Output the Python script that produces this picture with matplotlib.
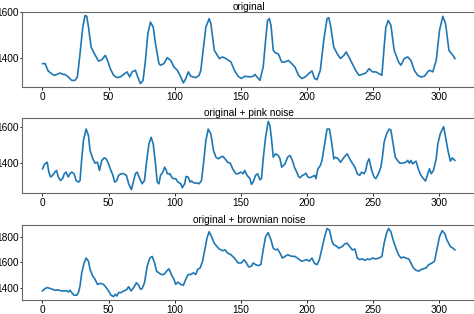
import numpy as np
import matplotlib
matplotlib.use("Agg")
import matplotlib.pyplot as plt
from matplotlib.ticker import MultipleLocator

plt.rcParams['font.family'] = ['Liberation Sans', 'DejaVu Sans']

# original signal
x_orig = [0, 2, 4.3, 7.6, 9.4, 13.2, 15.7, 17, 19.5, 22.1, 24.6, 26.4, 28.4, 30.5, 32.2, 33.5,
          34.8, 36.8, 39.3, 42.4, 44.9, 47.5, 49.2, 51.3, 53.8, 56.3, 58.9, 61.4, 64, 66, 67.8,
          70.3, 72.1, 74.1, 76.1, 77.9, 79.7, 81.7, 83.8, 85.5, 88.1, 89.3, 91.9, 94.4, 97, 99.5,
          102, 104.6, 106.6, 108.4, 110.4, 112.2, 116, 118.5, 119.8, 121.8, 123.6, 126.1, 127.4,
          130, 133.8, 136.3, 138.8, 142.6, 145.2, 148, 150.5, 153, 157, 159.4, 160.7, 163.3,
          164.5, 167, 168.8, 170.3, 171.6, 172.9, 174.6, 176.4, 178.4, 181, 183.5, 186, 188.6,
          191, 193.7, 196.2, 198.8, 201.3, 203.9, 205.9, 207.7, 210.2, 212.8, 215.3, 216.6, 217.9,
          220.4, 223, 225.5, 228, 229.8, 231.8, 234.4, 236.9, 239.5, 242, 244.6, 247.1, 249.6,
          252.2, 254.7, 256.8, 258.5, 259.8, 261.6, 263.6, 266.1, 269.4, 271.2, 273.7, 276.3,
          278.8, 281.3, 283.9, 286.4, 289, 291.5, 292.8, 295.3, 297.9, 300.4, 302.9, 305, 307.5,
          310.6, 312]
y_orig = [1377, 1377, 1345, 1330, 1326, 1336, 1330, 1330, 1319, 1304, 1304, 1319, 1420, 1536, 1587,
          1583, 1536, 1449, 1420, 1388, 1394, 1413, 1391, 1355, 1326, 1316, 1319, 1330, 1341, 1319,
          1341, 1348, 1319, 1290, 1304, 1391, 1507, 1558, 1536, 1464, 1377, 1370, 1377, 1403, 1391,
          1362, 1348, 1319, 1293, 1312, 1341, 1322, 1316, 1326, 1348, 1449, 1536, 1573, 1551, 1435,
          1399, 1406, 1399, 1384, 1348, 1322, 1312, 1322, 1319, 1322, 1330, 1312, 1304, 1362, 1478,
          1565, 1573, 1544, 1435, 1423, 1420, 1384, 1384, 1391, 1377, 1362, 1326, 1312, 1319, 1333,
          1345, 1312, 1307, 1348, 1478, 1573, 1577, 1544, 1449, 1420, 1399, 1413, 1428, 1406, 1377,
          1348, 1326, 1330, 1336, 1355, 1341, 1341, 1333, 1326, 1449, 1536, 1565, 1544, 1435, 1384,
          1370, 1399, 1406, 1391, 1348, 1326, 1319, 1322, 1341, 1348, 1341, 1391, 1522, 1583, 1551,
          1435, 1413, 1399]

# original + pink noise
x_pink = [0, 1.3, 2.5, 3.6, 4.8, 6.1, 7.6, 9.4, 10.7, 11.9, 13.7, 15.2, 16.5, 17.8, 19.5, 20.8,
          22.1, 23.9, 25.4, 27.2, 28.4, 29.7, 31, 33, 34.8, 36, 38.1, 39.8, 41.6, 43.1, 44.9, 46.7,
          48.2, 50, 51.3, 53.3, 54.6, 56.3, 57.6, 59.4, 61.4, 63.5, 65.2, 67.3, 69, 70.3, 71.6,
          73.6, 75.4, 77.2, 78.7, 80.5, 82.2, 83.8, 85.5, 86.8, 88.1, 89.3, 91.1, 92.4, 93.7, 94.4,
          96.4, 97.7, 99, 100.8, 102.5, 104.6, 105.8, 107.6, 108.6, 110.2, 111.7, 112.7, 114.7,
          116.8, 118.5, 120.3, 121.8, 123.6, 125.4, 127.4, 129.4, 131.2, 133, 135, 136.3, 138.1,
          140.1, 142.1, 143.9, 146.4, 148, 150, 151.8, 153, 154.8, 157, 158.1, 159.4, 161.2, 162.7,
          164.5, 165.7, 167, 168.8, 170.8, 172.1, 173.4, 174.6, 176.4, 178.4, 179.7, 181, 183.5,
          185.5, 187.3, 189.1, 190.6, 192.4, 193.7, 194.9, 196.7, 198.2, 199.3, 200.8, 202.6,
          204.4, 205.9, 206.9, 208.4, 210.2, 211.5, 213.5, 215.3, 217.1, 218.6, 220.4, 221.7,
          223.7, 225.5, 227.3, 229.3, 230.6, 232.4, 234.4, 236.4, 238.2, 240, 241.5, 243.3, 244.6,
          245.8, 247.1, 249.1, 250.9, 252.2, 254.2, 256, 257.2, 258.5, 260.3, 262.3, 263.6, 265.3,
          266.9, 268.6, 270.4, 272.5, 275, 276.3, 277.6, 278.8, 280.1, 281.3, 282.6, 284.7, 286.4,
          288.2, 289.8, 291.5, 292.8, 294.1, 295.8, 297.9, 299.1, 300.9, 303.5, 305, 306.8, 308.6,
          310.1, 312]
y_pink = [1369, 1391, 1400, 1405, 1351, 1324, 1333, 1351, 1360, 1324, 1305, 1315, 1342, 1351, 1324,
          1342, 1351, 1342, 1305, 1296, 1305, 1424, 1524, 1587, 1551, 1469, 1424, 1400, 1405, 1360,
          1415, 1429, 1424, 1396, 1369, 1333, 1296, 1305, 1333, 1342, 1342, 1333, 1287, 1255, 1305,
          1342, 1351, 1315, 1287, 1305, 1405, 1505, 1542, 1505, 1396, 1296, 1287, 1333, 1351, 1378,
          1360, 1342, 1342, 1324, 1315, 1315, 1296, 1287, 1265, 1287, 1327, 1324, 1296, 1302, 1291,
          1291, 1287, 1305, 1396, 1524, 1587, 1560, 1469, 1433, 1424, 1433, 1438, 1424, 1405, 1400,
          1369, 1342, 1342, 1351, 1342, 1360, 1333, 1315, 1284, 1296, 1333, 1342, 1309, 1315, 1424,
          1542, 1629, 1605, 1524, 1433, 1451, 1442, 1424, 1378, 1396, 1433, 1442, 1415, 1378, 1351,
          1327, 1320, 1333, 1338, 1345, 1324, 1320, 1327, 1333, 1315, 1369, 1387, 1415, 1505, 1587,
          1587, 1524, 1424, 1433, 1424, 1405, 1424, 1442, 1451, 1424, 1400, 1378, 1342, 1333, 1351,
          1342, 1360, 1405, 1424, 1360, 1324, 1315, 1342, 1378, 1433, 1515, 1560, 1587, 1582, 1505,
          1433, 1415, 1400, 1400, 1405, 1415, 1400, 1415, 1396, 1405, 1411, 1360, 1333, 1315, 1302,
          1342, 1369, 1342, 1360, 1424, 1505, 1560, 1600, 1542, 1469, 1411, 1429, 1415]

# original + brownian noise
x_brown = [0, 1.8, 3.6, 5.6, 7.6, 9.4, 11.9, 14.5, 16.2, 18.3, 19.5, 20.8, 22.1, 23.9, 25.9, 27.2,
           28.4, 29.7, 31.5, 33, 34.8, 36, 38.1, 39.8, 41.6, 43.7, 46.2, 48.2, 50, 51.8, 53.8,
           55.1, 56.3, 57.6, 59.4, 61.4, 63.5, 65.2, 67, 69, 71.1, 72.8, 74.1, 75.4, 77.2, 79.2,
           81.2, 83, 84.8, 86.3, 88.1, 89.8, 91.9, 93.9, 95.7, 97.5, 99.5, 100.8, 102.5, 104.6,
           106.6, 108.4, 110.2, 112.2, 114.2, 116, 117.3, 119.3, 121.1, 122.8, 124.4, 126.1, 127.9,
           129.9, 132, 133.8, 136.3, 138.1, 140.1, 142.6, 145.2, 148, 150.5, 152.5, 154.3, 156,
           158.1, 159.4, 161.2, 163.3, 165.2, 167, 168.8, 170.8, 172.9, 174.6, 176.4, 177.9, 179.7,
           181.5, 183.5, 185.5, 187.3, 189.1, 191.1, 193.7, 196.2, 198.2, 200, 201.8, 203.9, 205.9,
           207.7, 209.5, 211.5, 213.5, 215.3, 217.1, 219.1, 220.4, 222.2, 224.2, 226.8, 228.8,
           230.6, 232.4, 234.4, 236.4, 238.2, 240, 242, 244.1, 245.8, 247.6, 249.6, 252.2, 254.7,
           256.8, 258.5, 260.3, 261.8, 263.6, 265.3, 267.4, 269.4, 271.2, 273, 275, 277.1, 278.8,
           280.6, 282.6, 284.7, 286.4, 288.2, 290.2, 292.3, 294.8, 296.6, 298.4, 300.4, 302.4,
           304.3, 306, 308.6, 310.6, 312]
y_brown = [1377, 1395, 1403, 1397, 1390, 1382, 1385, 1377, 1377, 1379, 1369, 1382, 1364, 1344, 1344,
           1364, 1415, 1518, 1595, 1633, 1608, 1544, 1492, 1467, 1428, 1436, 1428, 1403, 1377, 1344,
           1333, 1351, 1338, 1364, 1364, 1377, 1385, 1410, 1377, 1403, 1441, 1421, 1390, 1395, 1441,
           1569, 1633, 1646, 1595, 1531, 1518, 1505, 1505, 1531, 1549, 1505, 1467, 1428, 1446, 1428,
           1421, 1467, 1505, 1505, 1518, 1505, 1544, 1556, 1608, 1697, 1787, 1838, 1800, 1749, 1723,
           1703, 1690, 1697, 1672, 1659, 1633, 1595, 1595, 1620, 1595, 1564, 1569, 1595, 1582, 1574,
           1582, 1697, 1800, 1831, 1774, 1710, 1697, 1703, 1672, 1633, 1646, 1659, 1651, 1646, 1646,
           1626, 1608, 1615, 1621, 1608, 1633, 1590, 1582, 1621, 1710, 1800, 1864, 1851, 1762, 1736,
           1728, 1710, 1723, 1744, 1749, 1723, 1697, 1703, 1633, 1621, 1626, 1615, 1626, 1621, 1633,
           1626, 1633, 1646, 1749, 1826, 1864, 1838, 1774, 1710, 1659, 1633, 1641, 1633, 1626, 1595,
           1556, 1538, 1531, 1544, 1549, 1556, 1582, 1595, 1608, 1697, 1800, 1846, 1826, 1774, 1723,
           1710, 1697]

titles = ['original', 'original + pink noise', 'original + brownian noise']
series = [(x_orig, y_orig), (x_pink, y_pink), (x_brown, y_brown)]

W, H = 474, 314
fig = plt.figure(figsize=(W / 100, H / 100), dpi=100)

# panel top/bottom edges in pixels
edges = [(12, 87), (118, 193), (225, 300)]
left_px, right_px = 22, 476

for (top, bot), (xs, ys), title in zip(edges, series, titles):
    ax = fig.add_axes([left_px / W, 1 - bot / H, (right_px - left_px) / W, (bot - top) / H])
    ax.plot(xs, ys, color='#1f77b4', lw=1.2)
    ax.set_xlim(-15.5, 328)
    ax.set_title(title, fontsize=7.3, pad=1.5)
    ax.xaxis.set_major_locator(MultipleLocator(50))
    ax.yaxis.set_major_locator(MultipleLocator(200))
    ax.tick_params(axis='x', labelsize=7.3, length=2, pad=1.5, width=0.6)
    ax.tick_params(axis='y', labelsize=7.3, length=1.5, pad=0.6, width=0.6)
    for sp in ax.spines.values():
        sp.set_color('#666666')
        sp.set_linewidth(0.8)

fig.savefig('out.png', dpi=100)
